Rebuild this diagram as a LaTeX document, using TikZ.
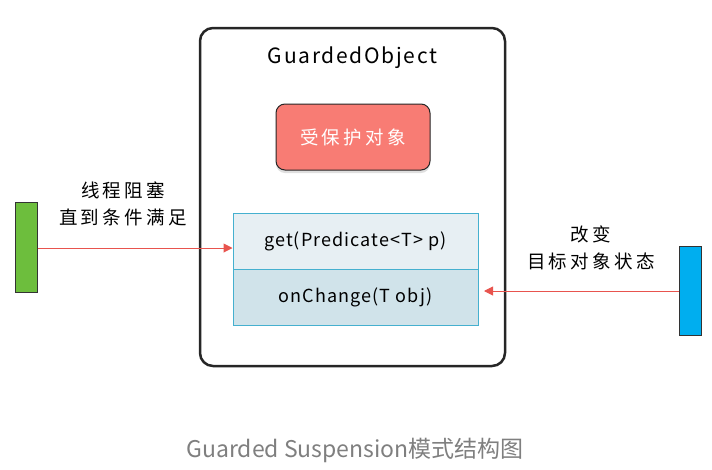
\documentclass[tikz,border=0pt]{standalone}
\usepackage{fontspec}
\setmainfont{Noto Sans CJK SC}
\newfontfamily\cjk{Noto Sans CJK SC}
\usetikzlibrary{arrows.meta,shadows}
\definecolor{redfill}{HTML}{F87C74}
\definecolor{arrowred}{HTML}{E8544E}
\definecolor{getfill}{HTML}{E7EFF3}
\definecolor{chgfill}{HTML}{D0E3EA}
\definecolor{boxblue}{HTML}{45B0CF}
\definecolor{greenbar}{HTML}{6DBE3D}
\definecolor{bluebar}{HTML}{00AEEF}
\definecolor{captiongray}{HTML}{7F7F7F}
\tikzset{
  bar/.style={draw=black!80, line width=1pt, inner sep=0pt, minimum width=22pt},
  method/.style={draw=boxblue, line width=1pt, inner sep=0pt, minimum width=245pt, minimum height=56pt, font=\fontsize{18}{20}\selectfont\addfontfeature{LetterSpace=6}},
  lbl/.style={font=\fontsize{18.5}{27}\selectfont\addfontfeature{LetterSpace=18}, align=center},
  conn/.style={draw=arrowred, line width=1pt, -{Triangle[length=9pt,width=9pt]}},
}
\begin{document}
\begin{tikzpicture}[x=1pt,y=-1pt]
\useasboundingbox (0,0) rectangle (712,469);
\node[draw=black!85, line width=2.5pt, rounded corners=13pt, minimum width=305pt, minimum height=338pt, inner sep=0pt] (outer) at (352.5,197) {};
\node[font=\fontsize{21}{24}\selectfont\addfontfeature{LetterSpace=8}] (title) at (352.5,58) {GuardedObject};
\node[draw=black!85, line width=1pt, fill=redfill, rounded corners=9pt, minimum width=154pt, minimum height=66pt, inner sep=0pt, text=white, font=\fontsize{18.5}{20}\selectfont\addfontfeature{LetterSpace=18}, drop shadow={shadow xshift=0pt, shadow yshift=-3pt, opacity=0.25}] (prot) at (353,137) {受保护对象};
\node[method, fill=getfill] (get) at (355.5,241) {get(Predicate<T> p)};
\node[method, fill=chgfill] (chg) at (355.5,297) {onChange(T obj)};
\node[bar, fill=greenbar, minimum height=90pt] (green) at (26,247) {};
\node[bar, fill=bluebar, minimum height=89pt] (blue) at (690,290.5) {};
\node[lbl] (llab) at (123,204) {线程阻塞\\直到条件满足};
\node[lbl] (rlab) at (591,248) {改变\\目标对象状态};
\coordinate (rtip) at (484,291);
\draw[conn] (green.east |- 0,248) -- (get.west |- 0,248);
\draw[conn] (blue.west |- 0,291) -- (rtip);
\node[text=captiongray, font=\fontsize{23}{26}\selectfont] (cap) at (355,450) {Guarded Suspension模式结构图};
\end{tikzpicture}
\end{document}
